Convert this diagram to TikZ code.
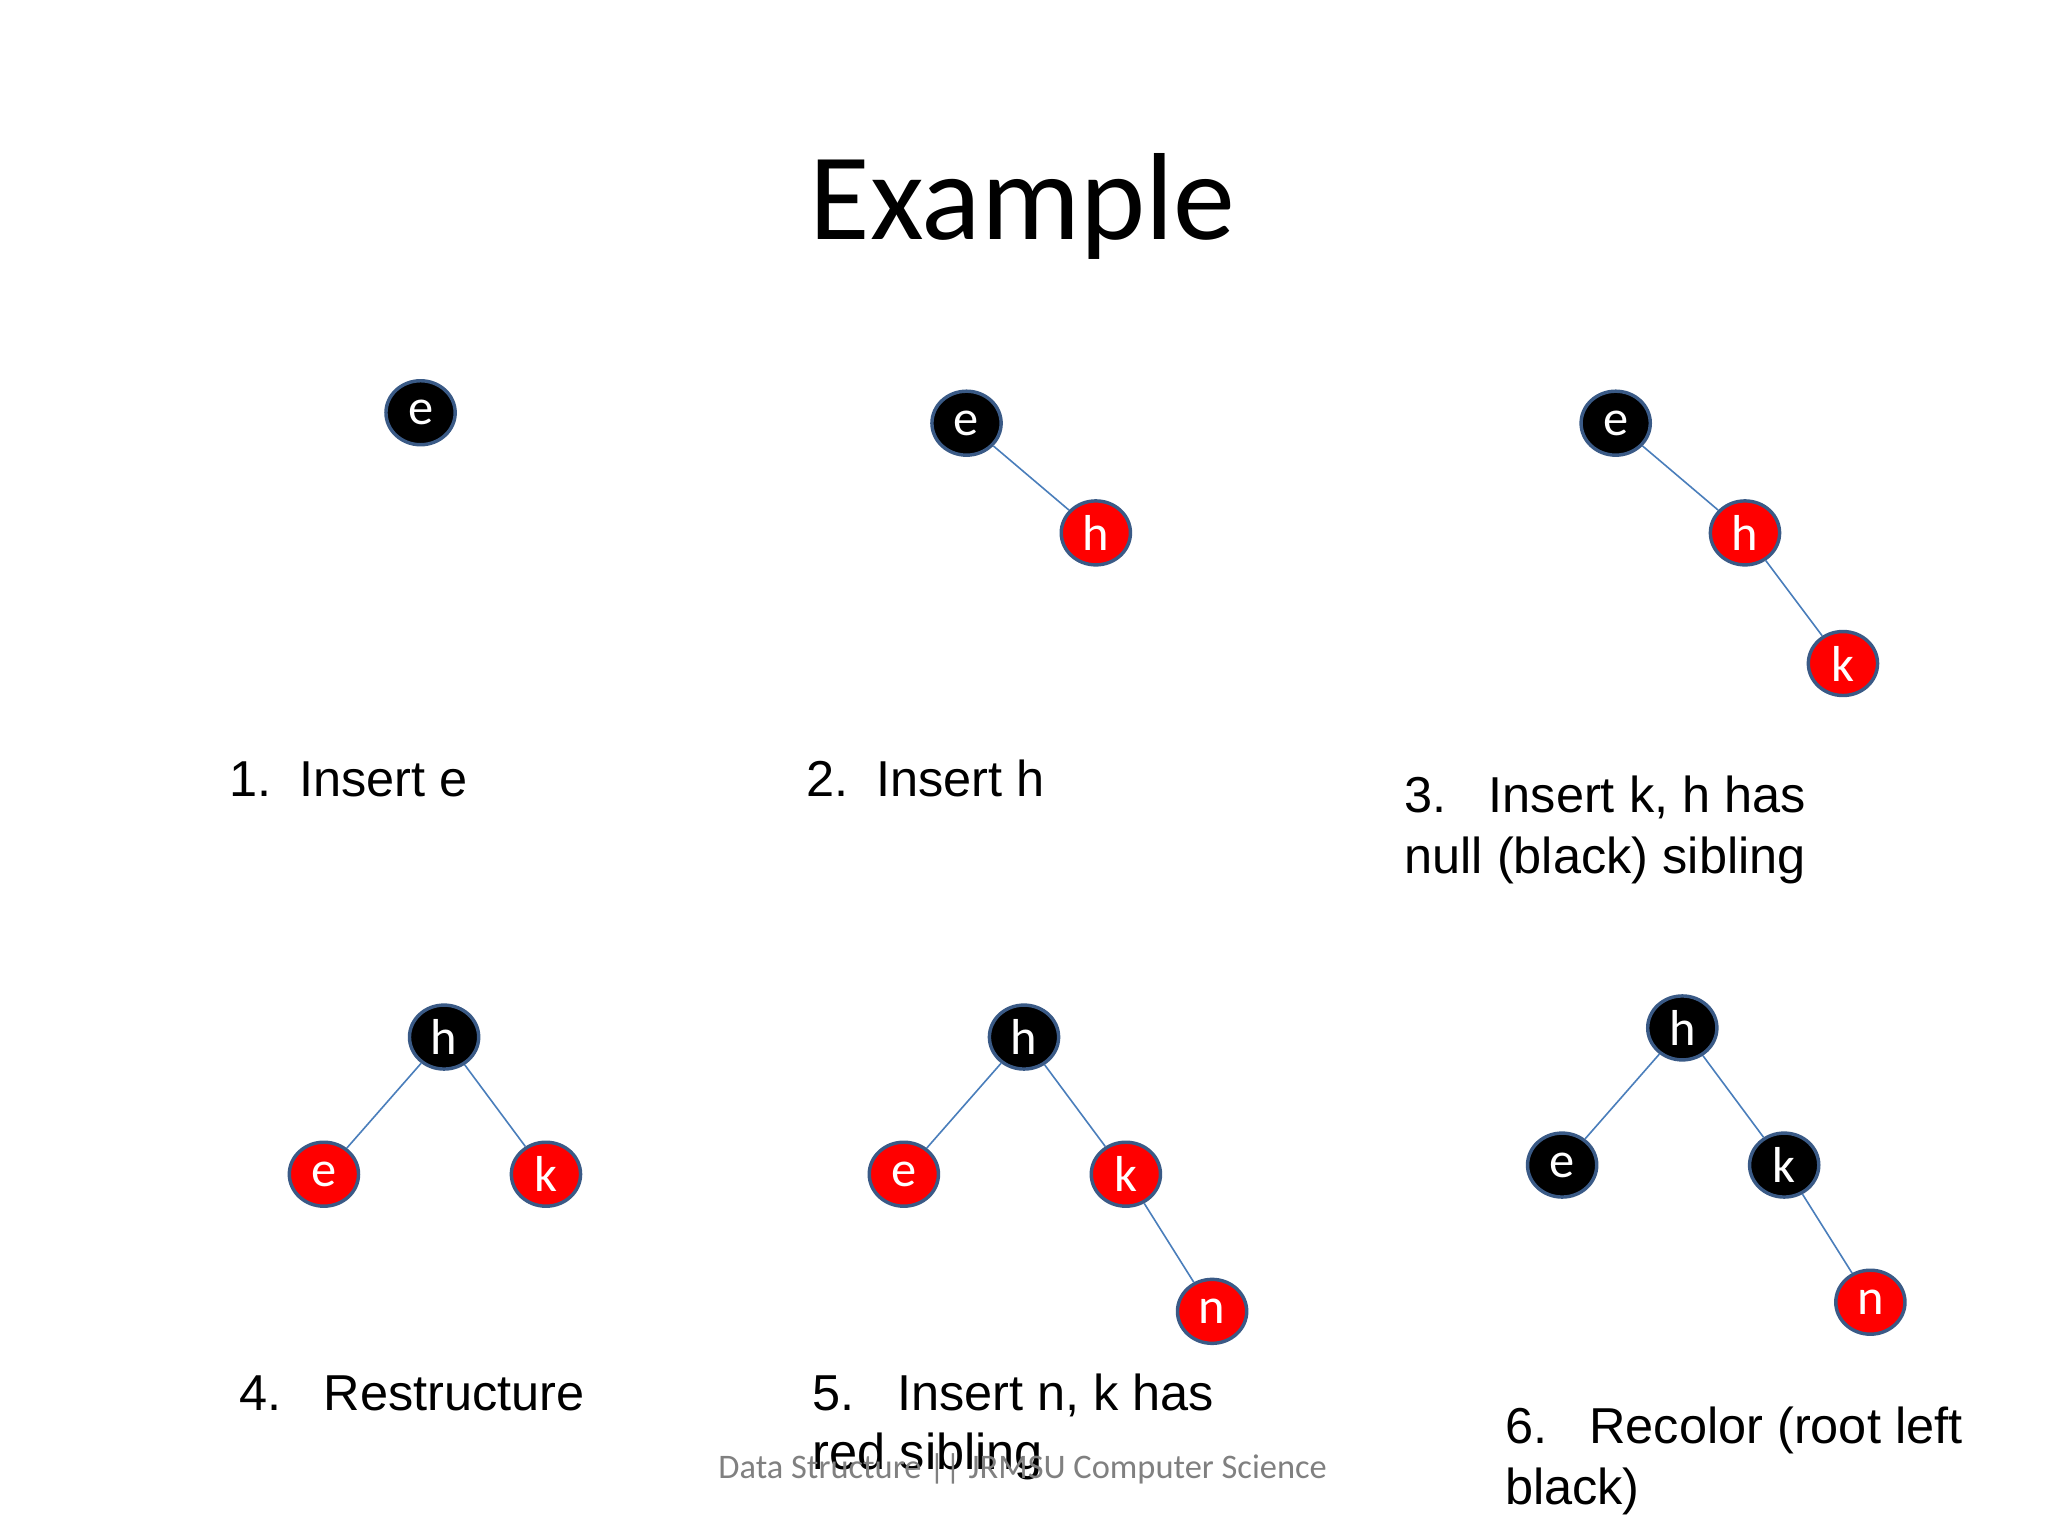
\documentclass[tikz,border=0pt]{standalone}
\usepackage{fontspec}
\usetikzlibrary{shapes.geometric}
\setmainfont{Liberation Sans}
\newfontfamily\carl{Carlito}
\definecolor{bord}{HTML}{3A5A86}
\definecolor{edg}{HTML}{4A7EBB}
\begin{document}
\begin{tikzpicture}[x=0.02cm,y=-0.02cm,
  nd/.style={ellipse,minimum width=1.06cm,minimum height=0.98cm,inner sep=0pt,draw=bord,line width=1.5pt,text=white,font=\carl\fontsize{22}{22}\selectfont},
  bk/.style={nd,fill=black},
  rd/.style={nd,fill=red},
  ed/.style={draw=edg,line width=0.7pt},
  lb/.style={anchor=base west,inner sep=0pt,font=\fontsize{22}{26}\selectfont}]
\useasboundingbox (0,0) rectangle (1568,1176);
\node[font=\carl\fontsize{54}{54}\selectfont,anchor=base] (t) at (783,183) {Example};
% tree 1
\node[bk] (a1) at (322,316) {e};
% tree 2
\node[bk] (b1) at (740,324) {e};
\node[rd] (b2) at (839,408) {h};
\draw[ed] (b1) -- (b2);
% tree 3
\node[bk] (c1) at (1237,324) {e};
\node[rd] (c2) at (1336,408) {h};
\node[rd] (c3) at (1411,508) {k};
\draw[ed] (c1) -- (c2); \draw[ed] (c2) -- (c3);
% tree 4
\node[bk] (d1) at (340,794) {h};
\node[rd] (d2) at (248,899) {e};
\node[rd] (d3) at (418,899) {k};
\draw[ed] (d1) -- (d2); \draw[ed] (d1) -- (d3);
% tree 5
\node[bk] (f1) at (784,794) {h};
\node[rd] (f2) at (692,899) {e};
\node[rd] (f3) at (862,899) {k};
\node[rd] (f4) at (928,1004) {n};
\draw[ed] (f1) -- (f2); \draw[ed] (f1) -- (f3); \draw[ed] (f3) -- (f4);
% tree 6
\node[bk] (g1) at (1288,787) {h};
\node[bk] (g2) at (1196,892) {e};
\node[bk] (g3) at (1366,892) {k};
\node[rd] (g4) at (1432,997) {n};
\draw[ed] (g1) -- (g2); \draw[ed] (g1) -- (g3); \draw[ed] (g3) -- (g4);
% labels
\node[lb] (l1) at (175,610) {1.\ \ Insert e};
\node[lb] (l2) at (617,610) {2.\ \ Insert h};
\node[lb] (l3) at (1075,622) {3.\ \ \ Insert k, h has};
\node[lb] (l3b) at (1075,669) {null (black) sibling};
\node[lb] (l4) at (183,1080) {4.\ \ \ Restructure};
\node[lb] (l5) at (622,1080) {5.\ \ \ Insert n, k has};
\node[lb] (l5b) at (622,1125) {red sibling};
\node[lb] (l6) at (1152,1105) {6.\ \ \ Recolor (root left};
\node[lb] (l6b) at (1152,1152) {black)};
\node[anchor=base,font=\carl\fontsize{15}{15}\selectfont,text=black!50] (ft) at (783,1132) {Data Structure || JRMSU Computer Science};
\end{tikzpicture}
\end{document}
